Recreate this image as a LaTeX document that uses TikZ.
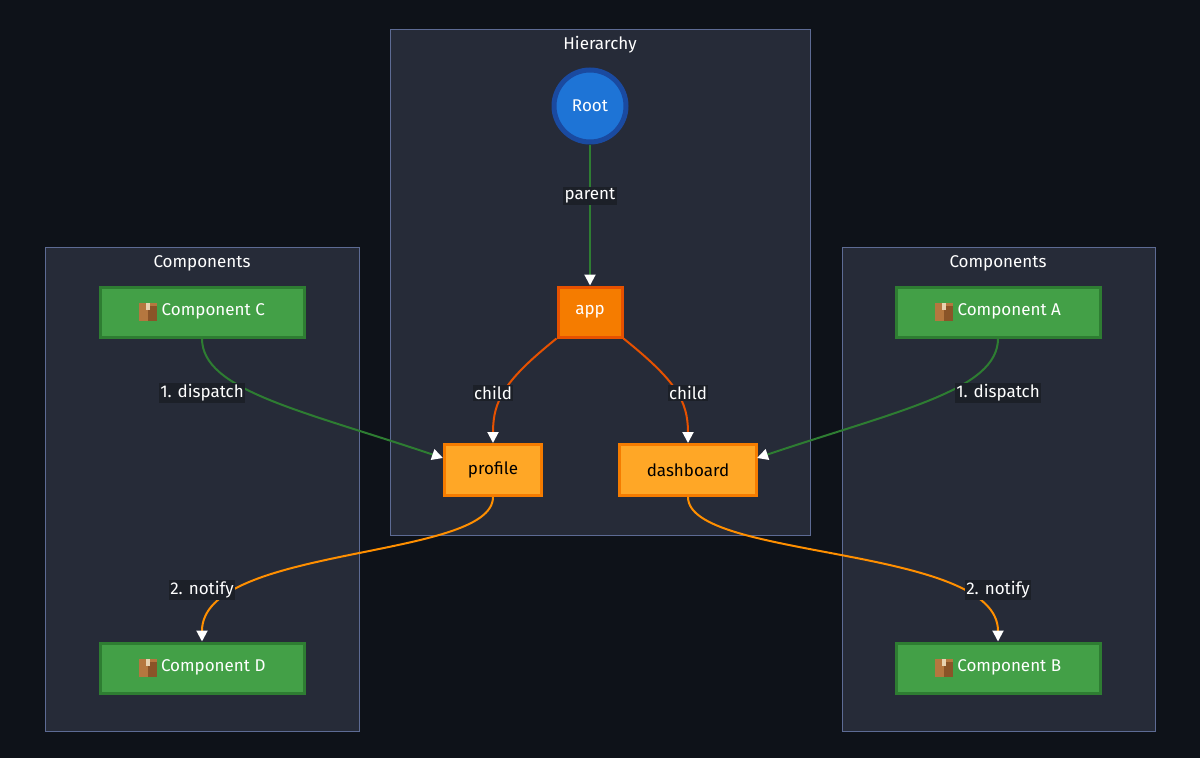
\documentclass[tikz,border=0pt]{standalone}
\usepackage{fontspec}
\setmainfont{Fira Sans}
\usetikzlibrary{arrows.meta}
\definecolor{bg}{HTML}{0E1219}
\definecolor{cl}{HTML}{262B38}
\definecolor{clb}{HTML}{5D6B94}
\definecolor{gfill}{HTML}{43A047}
\definecolor{gline}{HTML}{2E7D32}
\definecolor{ofill}{HTML}{F57C00}
\definecolor{oline}{HTML}{E65100}
\definecolor{lfill}{HTML}{FFA726}
\definecolor{lline}{HTML}{F57C00}
\definecolor{nline}{HTML}{FF8F00}
\definecolor{lab}{HTML}{1C2028}
\definecolor{boxb}{HTML}{B5773F}
\definecolor{boxd}{HTML}{8A5428}
\definecolor{tape}{HTML}{E8D2B0}
\definecolor{rline}{HTML}{1A4AA0}
\definecolor{rfill}{HTML}{1E74D6}
\newcommand{\pkgicon}{\tikz[baseline=-3pt,x=1pt,y=1pt]{\fill[boxb] (-9,-9) rectangle (9,9);\fill[boxd] (0,-9) rectangle (9,6);\fill[tape] (-2,2) rectangle (2,9);}}
\begin{document}
\begin{tikzpicture}[x=1pt,y=-1pt,font=\fontsize{17}{20}\selectfont,
 clus/.style={draw=clb,fill=cl,line width=1pt},
 ctitle/.style={text=white,anchor=center},
 comp/.style={draw=gline,fill=gfill,line width=3pt,text=white,minimum width=204pt,minimum height=50pt},
 leaf/.style={draw=lline,fill=lfill,line width=3pt,text=black,minimum height=51pt},
 lbl/.style={fill=lab,text=white,inner sep=1.5pt},
 arr/.style={line width=2pt,-{Triangle[length=11pt,width=11pt,fill=white,color=white]}}]
\fill[bg] (0,0) rectangle (1200,758);
\useasboundingbox (0,0) rectangle (1200,758);
\draw[clus] (390,29) rectangle (810,535);
\draw[clus] (45,247) rectangle (359,731);
\draw[clus] (842,247) rectangle (1155,731);
\node[ctitle] (th) at (600,45) {Hierarchy};
\node[ctitle] (tl) at (202,263) {Components};
\node[ctitle] (tr) at (998,263) {Components};
\node[circle,draw=rline,line width=5pt,fill=rfill,minimum size=72pt,text=white,inner sep=0pt] (root) at (590,106) {Root};
\node[draw=oline,fill=ofill,line width=3pt,text=white,minimum width=64pt,minimum height=50pt] (app) at (590,312) {app};
\node[leaf,minimum width=97pt] (profile) at (493,470) {profile};
\node[leaf,minimum width=137pt] (dash) at (688,470) {dashboard};
\node[comp] (C) at (202,312) {\pkgicon\ Component C};
\node[comp] (A) at (998,312) {\pkgicon\ Component A};
\node[comp] (D) at (202,668) {\pkgicon\ Component D};
\node[comp] (B) at (998,668) {\pkgicon\ Component B};
\coordinate (pin) at (443,458);
\coordinate (din) at (757,458);
\draw[arr,gline] (root) -- (app);
\draw[arr,oline] (app.south west) .. controls (505,380) and (493,400) .. (profile.north);
\draw[arr,oline] (app.south east) .. controls (675,380) and (688,400) .. (dash.north);
\draw[arr,gline] (C.south) .. controls (202,390) and (300,410) .. (pin);
\draw[arr,gline] (A.south) .. controls (998,390) and (900,410) .. (din);
\draw[arr,nline] (profile.south) .. controls (493,560) and (202,545) .. (D.north);
\draw[arr,nline] (dash.south) .. controls (688,560) and (998,545) .. (B.north);
\node[lbl] (l1) at (590,196) {parent};
\node[lbl] (l2) at (493,393) {child};
\node[lbl] (l3) at (688,393) {child};
\node[lbl] (l4) at (202,393) {1. dispatch};
\node[lbl] (l5) at (998,393) {1. dispatch};
\node[lbl] (l6) at (202,590) {2. notify};
\node[lbl] (l7) at (998,590) {2. notify};
\end{tikzpicture}
\end{document}
